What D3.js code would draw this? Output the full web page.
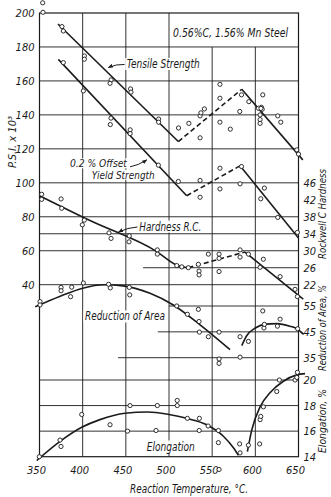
<!DOCTYPE html>
<html>
<head>
<meta charset="utf-8">
<script src="https://cdn.jsdelivr.net/npm/d3@7"></script>
<style>
  html, body { margin: 0; padding: 0; background: #fff; }
  svg text { font-family: "Liberation Sans Narrow", "Arial Narrow", "DejaVu Sans Condensed", sans-serif; font-style: italic; fill: #1b1b1b; }
</style>
</head>
<body>
<svg id="chart" width="331" height="497"></svg>
<script>
/* 0.56%C, 1.56% Mn steel — mechanical properties vs reaction temperature.
   Values; [temperature °C, value]. */

const TEMP_TICKS = [350, 400, 450, 500, 550, 600, 650];
const PSI_TICKS = [200, 180, 160, 140, 120, 100, 80, 60, 40];
const HRC_TICKS = [46, 42, 38, 34, 30, 26, 22];
const RA_TICKS = [55, 45, 35];
const EL_TICKS = [20, 18, 16, 14];

// gridlines: psi levels drawn full width, other scales start at a given temperature
const PSI_GRID = [180, 160, 140, 120, 100, 80, 70, 60, 40];
const HRC_GRID = [[26, 470]];
const RA_GRID = [[55, 500], [45, 487], [35, 441]];
const EL_GRID = [20, 18, 16];

// ---- Tensile strength (P.S.I. x 10^3) ----
const tensilePts = [
  [353.7, 206], [354, 200.4], [376, 192], [377.6, 189.4], [402, 174.7], [402, 172.8],
  [432.9, 160.6], [431.7, 158.6], [455.5, 155.3], [456, 153.4], [488, 137.5], [488, 135.7],
  [511, 132.3], [523, 135], [536, 126.5], [536, 139.4], [537, 141.2], [541, 143.5],
  [559, 158], [559, 149.8], [559, 135.7], [571, 131.6], [584, 151.8], [582, 142],
  [592.5, 147.8], [603.6, 143.9], [608.6, 151.8], [607, 144.5], [608, 143.3], [606.5, 143.8],
  [605.5, 140], [605.5, 137.2], [605.5, 135], [626, 139.4], [629.5, 135.7], [648, 119.4], [650, 116.9]
];
const tensileFit = [[371.4, 193.5], [510.8, 124.3]];
const tensileBridge = [[510.8, 124.3], [584.3, 155.1]];
const tensileFall = [[584.3, 155.1], [655, 113.5]];

// ---- 0.2% offset yield strength ----
const yieldPts = [
  [377.6, 170.8], [400.8, 154.1], [432.8, 138.1], [432, 134.3], [455, 131.2], [455, 129],
  [487.7, 110.4], [510.8, 100.8], [536, 101.4], [536, 91.5], [559, 108.6], [559, 96.4],
  [584, 109.6], [582.3, 99.4], [610.5, 96.9], [606.3, 90.6], [626, 79.6], [648.7, 70.8]
];
const yieldFit = [[371.8, 172.7], [520.5, 92.4]];
const yieldBridge = [[520.5, 92.4], [582.3, 110]];
const yieldFall = [[582.3, 110], [650, 67.5]];

// ---- Hardness, Rockwell C ----
const hardnessPts = [
  [352.5, 43.3], [352.5, 42.1], [375, 42.2], [375.7, 40], [399.6, 36.1], [401.9, 37.2],
  [430.5, 34.2], [432.9, 32.9], [454, 33.5], [453.7, 32.1], [486.5, 30.2], [486.5, 29.2],
  [509, 26.5], [514.8, 26.2], [522.4, 26], [534, 26.8], [534.8, 25.2], [534.8, 24.3],
  [545.6, 29.2], [558, 29.2], [558, 28.2], [558, 25.1], [582.3, 30.2], [582.3, 28.5],
  [592, 29.2], [609.3, 28], [605.5, 26.1], [628.7, 23.9], [646, 20.9], [648.7, 19.2]
];
const hardnessFit = [[350.6, 42.9], [408.5, 37.1], [485.8, 29.8], [509, 26.6], [522.4, 26]];
const hardnessBridge = [[522.4, 26], [588, 29.7]];
const hardnessFall = [[588, 29.7], [655.5, 18.6]];

// ---- Reduction of area, % ----
const raPts = [
  [350.6, 56.7], [350.6, 55.4], [375, 62.2], [375, 60.9], [386, 58.6], [387.3, 62.3],
  [400.8, 63.9], [430, 63.4], [432, 62], [454, 62.2], [454.5, 59.3], [509, 55],
  [521.3, 51.8], [534, 53.7], [534.8, 49], [535.2, 44.9], [545.6, 43.1], [558, 44.9],
  [558, 34.5], [558, 32.8], [582.3, 43.1], [592, 41.3], [582.3, 35.2], [608.6, 53.1],
  [628.7, 49.9], [625.6, 47.2], [610, 46.5], [610.5, 47.9], [649, 46.2]
];
const raLow = [[345, 54.7], [374, 58.8], [400, 61.9], [425, 63.2], [447, 62.8], [478, 59.9],
  [505, 55.4], [536, 47.7], [570.7, 38.1]];
const raHigh = [[584.3, 39.7], [590, 43.5], [600, 46.5], [612, 48], [625, 48.2], [640, 47.2],
  [648, 46.2], [656, 44]];

// ---- Elongation, % ----
const elongPts = [
  [349.8, 14], [373.8, 15.3], [374.9, 14.8], [398.9, 17.3], [431.7, 16.5], [454.9, 18],
  [452, 16], [486.5, 18], [485, 16.05], [509.5, 18.4], [509.5, 18.0], [521.3, 17],
  [535.2, 17], [535, 16.05], [545.3, 16.4], [557.2, 16.05], [557.2, 15.1], [558, 13.0],
  [581.8, 15], [582.3, 14.3], [592, 14.9], [605, 15], [605.5, 16.9], [606.3, 17.15],
  [609.3, 17.9], [624.8, 19.1], [627.8, 20], [646, 20], [648, 20.2], [648.7, 20.6]
];
const elongLow = [[346.8, 13.7], [373.8, 15.2], [398.9, 16.3], [420, 16.9], [449, 17.4],
  [475, 17.5], [500, 17.3], [520.5, 17.0], [543.7, 16.5], [563, 15.6], [574.6, 14.7], [580.4, 14.1]];
const elongHigh = [[590.8, 14.4], [595.9, 16.1], [605.5, 17.9], [617, 19], [632.5, 19.9],
  [648, 20.4], [657.6, 20.5]];

(function () {
  const INK = "#1b1b1b";
  const L = 39.5, R = 298.5, T = 13, B = 456.7;
  const svg = d3.select("#chart");

  const x = d3.scaleLinear().domain([350, 650]).range([L, R]);
  const yPsi = d3.scaleLinear().domain([40, 200]).range([284.7, T]);
  const yHrc = d3.scaleLinear().domain([22, 46]).range([yPsi(40), yPsi(100)]);
  const yRa = d3.scaleLinear().domain([35, 55]).range([357.7, 306]);
  const yEl = d3.scaleLinear().domain([14, 20]).range([B, 380]);

  // ---------- grid ----------
  const gGrid = svg.append("g").attr("stroke", INK).attr("stroke-width", 0.9);
  const hline = (y, x1) => gGrid.append("line").attr("x1", x1).attr("x2", R).attr("y1", y).attr("y2", y);
  PSI_GRID.forEach(v => hline(yPsi(v), L));
  HRC_GRID.forEach(([v, t]) => hline(yHrc(v), x(t)));
  RA_GRID.forEach(([v, t]) => hline(yRa(v), x(t)));
  EL_GRID.forEach(v => hline(yEl(v), L));
  TEMP_TICKS.slice(1, -1).forEach(t => {
    // the title box in the top right corner interrupts the 550 and 600 verticals
    const top = t > 520 ? yPsi(180) : T;
    gGrid.append("line").attr("x1", x(t)).attr("x2", x(t)).attr("y1", top).attr("y2", B);
  });
  svg.append("rect").attr("x", L).attr("y", T).attr("width", R - L).attr("height", B - T)
    .attr("fill", "none").attr("stroke", INK).attr("stroke-width", 1.2);

  // ---------- axes ----------
  const styleAxis = g => {
    g.select(".domain").remove();
    g.attr("font-family", null).attr("font-size", null);
    g.selectAll("text").style("font-size", "11px");
  };
  const fmt = d3.format("d");
  svg.append("g").attr("transform", `translate(${L},0)`)
    .call(d3.axisLeft(yPsi).tickValues(PSI_TICKS).tickFormat(fmt).tickSize(0).tickPadding(5)).call(styleAxis);
  svg.append("g").attr("transform", `translate(-3.5,${B})`)
    .call(d3.axisBottom(x).tickValues(TEMP_TICKS).tickFormat(fmt).tickSize(0).tickPadding(10)).call(styleAxis);
  [[yHrc, HRC_TICKS], [yRa, RA_TICKS], [yEl, EL_TICKS]].forEach(([s, ticks]) => {
    svg.append("g").attr("transform", `translate(${R},0)`)
      .call(d3.axisRight(s).tickValues(ticks).tickFormat(fmt).tickSize(0).tickPadding(5)).call(styleAxis);
  });

  const vTitle = (txt, cx, cy, len) => svg.append("text")
    .attr("transform", `translate(${cx},${cy}) rotate(-90)`).attr("text-anchor", "middle")
    .attr("dy", "0.35em").style("font-size", "11px")
    .attr("textLength", len).attr("lengthAdjust", "spacingAndGlyphs").text(txt);
  vTitle("P.S.I. x 10³", 12, 142, 52);
  vTitle("Rockwell C Hardness", 322, 214, 90);
  vTitle("Reduction of Area, %", 322, 328, 86);
  vTitle("Elongation, %", 322, 421, 64);
  svg.append("text").attr("x", 189).attr("y", 493).attr("text-anchor", "middle")
    .style("font-size", "12px").attr("textLength", 118).attr("lengthAdjust", "spacingAndGlyphs")
    .text("Reaction Temperature, °C.");

  // ---------- curve labels (white backing breaks the grid like the original) ----------
  const gLab = svg.append("g");
  function label(txt, px, py, len, size) {
    const t = gLab.append("text").attr("x", px).attr("y", py).style("font-size", (size || 11.5) + "px")
      .attr("textLength", len).attr("lengthAdjust", "spacingAndGlyphs").text(txt);
    const b = t.node().getBBox();
    gLab.insert("rect", () => t.node()).attr("x", b.x - 1.5).attr("y", b.y + 1)
      .attr("width", b.width + 3).attr("height", b.height - 2).attr("fill", "#fff");
  }
  label("0.56%C, 1.56% Mn Steel", x(504.7), yPsi(185.9), 115);
  label("Tensile Strength", x(451), yPsi(167.6), 73);
  label("0.2 % Offset", x(385.3), yPsi(109.1), 57, 10.5);
  label("Yield Strength", x(410.5), yPsi(102.4), 63, 10.5);
  label("Hardness R.C.", x(465.6), yHrc(34.75), 62);
  label("Reduction of Area", x(402.7), yRa(49.4), 80);
  label("Elongation", x(474.2), yEl(14.48), 48);

  // leader arrows
  svg.append("defs").append("marker").attr("id", "ah").attr("viewBox", "0 0 10 10")
    .attr("refX", 9).attr("refY", 5).attr("markerWidth", 5).attr("markerHeight", 5)
    .attr("orient", "auto-start-reverse")
    .append("path").attr("d", "M0,1 L10,5 L0,9 Z").attr("fill", INK);
  const leader = (a, b, bend) => {
    const mx = (a[0] + b[0]) / 2, my = (a[1] + b[1]) / 2 + bend;
    svg.append("path").attr("d", `M${a[0]},${a[1]} Q${mx},${my} ${b[0]},${b[1]}`)
      .attr("fill", "none").attr("stroke", INK).attr("stroke-width", 1).attr("marker-end", "url(#ah)");
  };
  leader([x(448.5), yPsi(169.7)], [x(429.7), yPsi(167.9)], -2);
  leader([x(454.8), yPsi(109.4)], [x(474.3), yPsi(113.5)], 2);
  leader([x(463.5), yHrc(35.6)], [x(441.5), yHrc(34.4)], -2);

  // ---------- fitted lines ----------
  function fit(pts, yS, dashed) {
    svg.append("path").datum(pts)
      .attr("d", d3.line().x(d => x(d[0])).y(d => yS(d[1])).curve(d3.curveMonotoneX))
      .attr("fill", "none").attr("stroke", INK).attr("stroke-width", 1.6)
      .attr("stroke-dasharray", dashed ? "5,3" : null);
  }
  fit(tensileFit, yPsi); fit(tensileBridge, yPsi, true); fit(tensileFall, yPsi);
  fit(yieldFit, yPsi); fit(yieldBridge, yPsi, true); fit(yieldFall, yPsi);
  fit(hardnessFit, yHrc); fit(hardnessBridge, yHrc, true); fit(hardnessFall, yHrc);
  fit(raLow, yRa); fit(raHigh, yRa);
  fit(elongLow, yEl); fit(elongHigh, yEl);

  // ---------- data points ----------
  function points(pts, yS) {
    svg.append("g").selectAll("circle").data(pts).join("circle")
      .attr("cx", d => x(d[0])).attr("cy", d => yS(d[1])).attr("r", 2.1)
      .attr("fill", "#fff").attr("stroke", INK).attr("stroke-width", 0.9);
  }
  points(tensilePts, yPsi);
  points(yieldPts, yPsi);
  points(hardnessPts, yHrc);
  points(raPts, yRa);
  points(elongPts, yEl);
})();
</script>
</body>
</html>
